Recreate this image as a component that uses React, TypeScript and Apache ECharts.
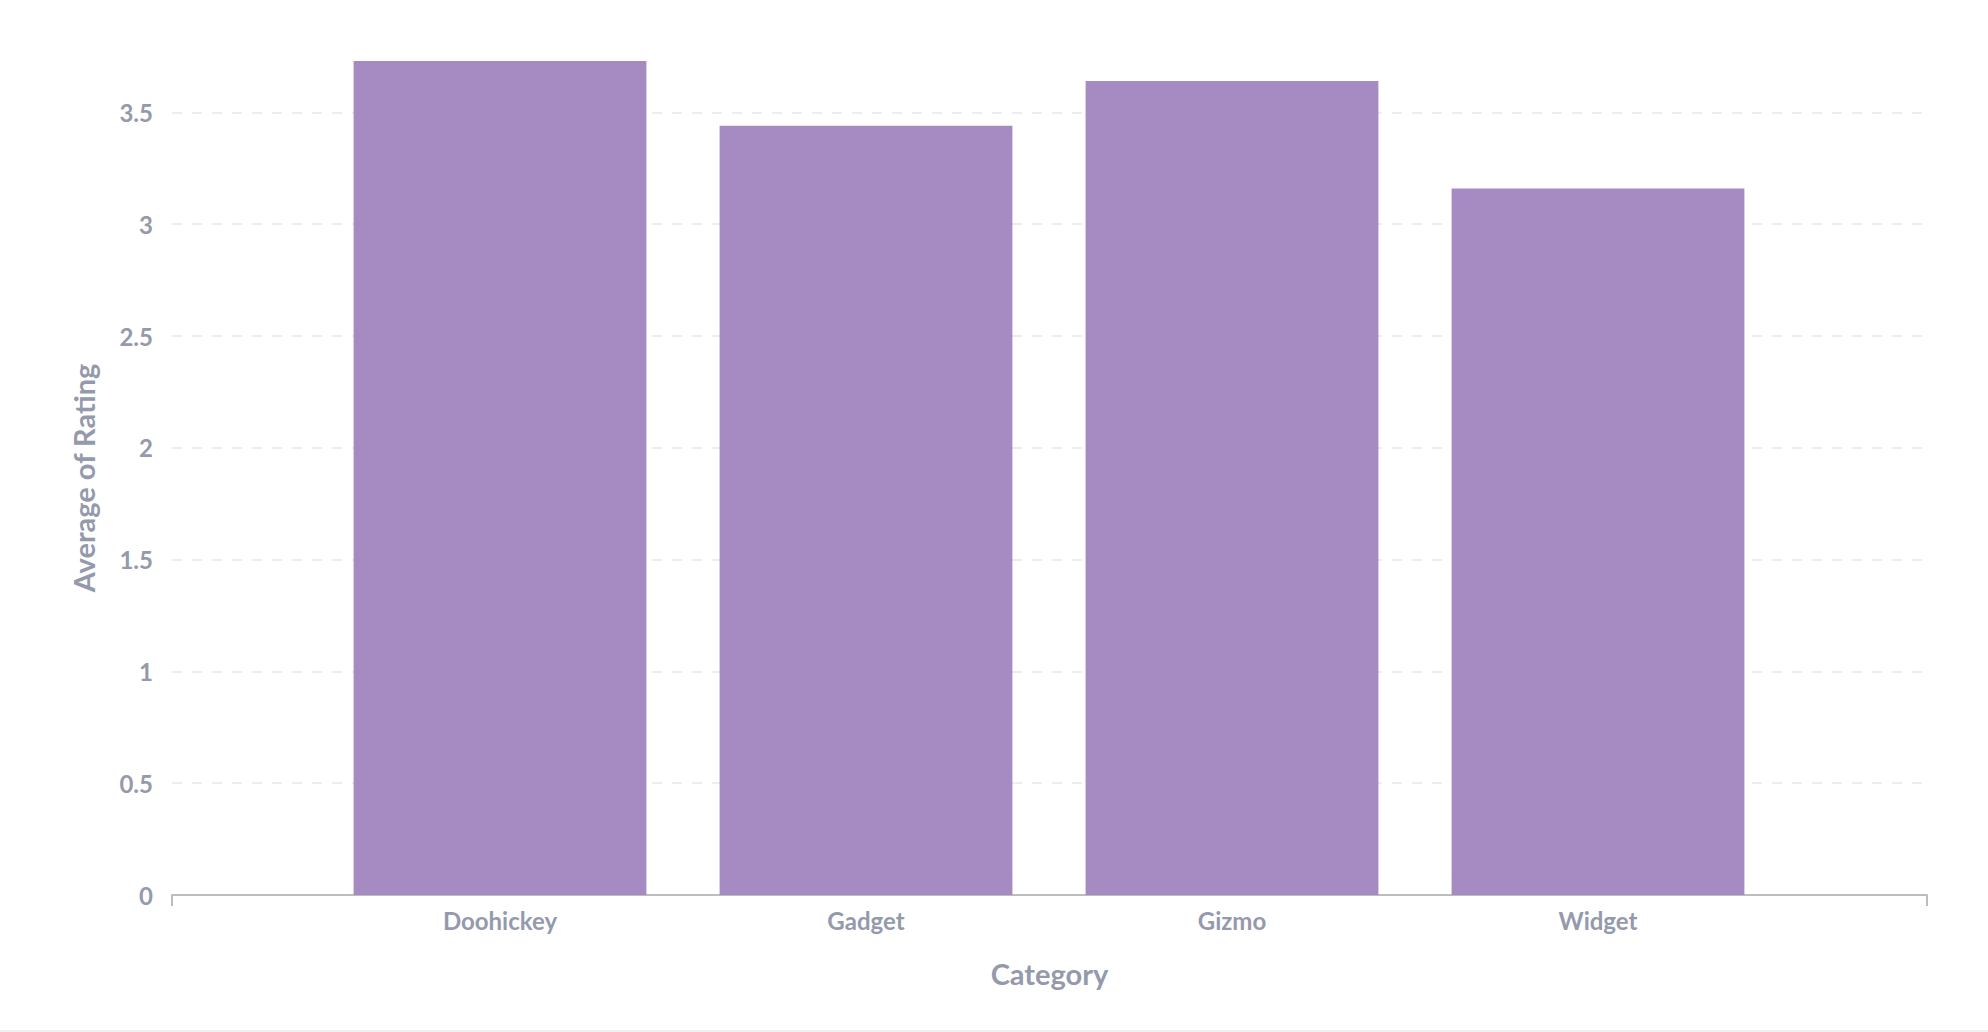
import React, { useEffect, useRef } from "react";
import * as echarts from "echarts";

// data
const categories = ["Doohickey", "Gadget", "Gizmo", "Widget"];
const avgRating = [3.73, 3.44, 3.64, 3.16];
const yTicks = [0, 0.5, 1, 1.5, 2, 2.5, 3, 3.5];

const LABEL = "#949AAB";
const FONT = "Lato";

const App: React.FC = () => {
  const chartRef = useRef<HTMLDivElement>(null);

  useEffect(() => {
    if (!chartRef.current) return;
    const chart = echarts.init(chartRef.current, undefined, { renderer: "svg" });
    const yMax = Math.max(...avgRating);

    const option = {
      animation: false,
      backgroundColor: "#ffffff",
      grid: [
        // outer grid: axis line, grid lines, axis names
        { left: 172, right: 61, top: 61, bottom: 137 },
        // inner grid: categories sit here, padded from the axis ends
        { left: 317, right: 207, top: 61, bottom: 137 },
      ],
      xAxis: [
        {
          gridIndex: 0,
          type: "value",
          min: 0,
          max: 1,
          interval: 1,
          name: "Category",
          nameLocation: "middle",
          nameGap: 64,
          nameTextStyle: { color: LABEL, fontFamily: FONT, fontWeight: "bold", fontSize: 29 },
          axisLine: { show: true, lineStyle: { color: "#BDBDBD", width: 2 } },
          axisTick: { show: true, length: 11, lineStyle: { color: "#BDBDBD", width: 2 } },
          axisLabel: { show: false },
          splitLine: { show: false },
        },
        {
          gridIndex: 1,
          type: "category",
          data: categories,
          axisLine: { show: false },
          axisTick: { show: false },
          axisLabel: {
            color: LABEL,
            fontFamily: FONT,
            fontWeight: "bold",
            fontSize: 24,
            margin: 13,
          },
        },
      ],
      yAxis: [
        {
          gridIndex: 0,
          type: "value",
          min: 0,
          max: yMax,
          interval: 0.5,
          name: "Average of Rating",
          nameLocation: "middle",
          nameGap: 74,
          nameTextStyle: { color: LABEL, fontFamily: FONT, fontWeight: "bold", fontSize: 29 },
          axisLine: { show: false },
          axisTick: { show: false },
          axisLabel: {
            color: LABEL,
            fontFamily: FONT,
            fontWeight: "bold",
            fontSize: 24,
            margin: 19,
            formatter: (v: number) =>
              yTicks.some((t) => Math.abs(t - v) < 1e-9) ? String(v) : "",
          },
          splitLine: {
            show: true,
            showMinLine: false,
            showMaxLine: false,
            lineStyle: { color: "#EDEDF0", width: 2, type: [10, 10] },
          },
        },
        {
          gridIndex: 1,
          type: "value",
          min: 0,
          max: yMax,
          show: false,
          splitLine: { show: false },
        },
      ],
      graphic: [
        {
          type: "line",
          shape: { x1: 0, y1: 1031, x2: 1988, y2: 1031 },
          style: { stroke: "#F0F0F2", lineWidth: 2 },
          silent: true,
        },
      ],
      series: [
        {
          type: "bar",
          xAxisIndex: 1,
          yAxisIndex: 1,
          data: avgRating,
          barCategoryGap: "20%",
          itemStyle: { color: "#A68AC2" },
        },
      ],
    };

    chart.setOption(option);

    return () => {
      chart.dispose();
    };
  }, []);

  return (
    <div
      ref={chartRef}
      style={{ position: "fixed", left: 0, top: 0, width: 1988, height: 1032 }}
    />
  );
};

export default App;
